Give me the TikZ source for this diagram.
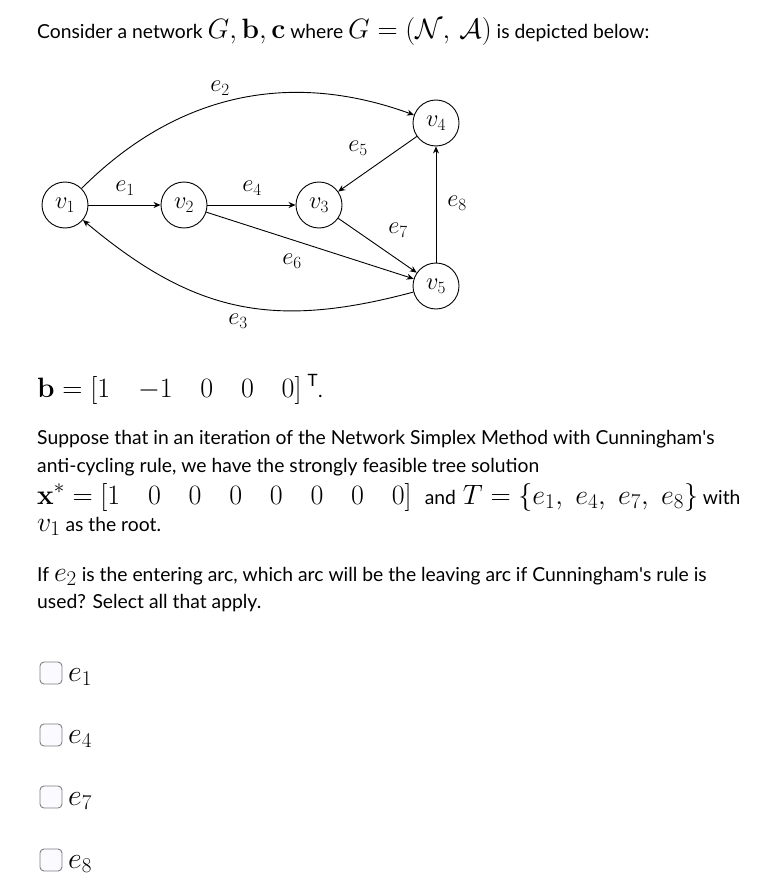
\RequirePackage{fix-cm}
\documentclass[tikz,border=0pt]{standalone}
\usepackage{amsmath}
\usepackage[no-math]{fontspec}
\setmainfont{Lato}
\usetikzlibrary{arrows.meta}
\DeclareMathSizes{28}{28}{21}{15}
\newcommand\txt{\fontsize{19.3}{28}\selectfont}
\newcommand\mth{\fontsize{28}{28}\selectfont}
\newcommand\gmth{\fontsize{24.5}{28}\selectfont}
\newcommand\opt{\fontsize{30}{34}\selectfont}
\newcommand\gp{\hspace{27.8pt}}
\newcommand\cm{,\mkern5mu}
\newcommand\apos{\textquotesingle}
\tikzset{
  vert/.style={circle,draw,line width=0.9pt,minimum size=46pt,inner sep=0pt,font=\gmth},
  arc/.style={line width=0.9pt,-{Stealth[length=7pt,width=6pt]}},
  lab/.style={inner sep=0pt,font=\gmth},
  line/.style={anchor=base west,inner sep=0pt,font=\txt},
  cbox/.style={draw=black!50,fill=blue!2,rounded corners=4pt,minimum size=22pt,inner sep=0pt,line width=0.9pt}
}
\begin{document}
\begin{tikzpicture}[x=1pt,y=1pt]
\useasboundingbox (0,0) rectangle (776,-888);
\node[line] (l1) at (37,-39) {Consider a network {\mth $G,\mathbf{b},\mathbf{c}$} where {\mth $G=(\mathcal{N},\mkern3mu\mathcal{A})$} is depicted below:};
% graph
\node[vert] (v1) at (65,-205) {$v_1$};
\node[vert] (v2) at (184,-205) {$v_2$};
\node[vert] (v3) at (319,-205) {$v_3$};
\node[vert] (v4) at (436,-123) {$v_4$};
\node[vert] (v5) at (436,-286) {$v_5$};
\draw[arc] (v1) -- (v2);
\draw[arc] (v2) -- (v3);
\draw[arc] (v4) -- (v3);
\draw[arc] (v3) -- (v5);
\draw[arc] (v2) -- (v5);
\draw[arc] (v5) -- (v4);
\draw[arc] (v1) to[out=45,in=160] (v4);
\draw[arc] (v5) to[out=195,in=-40,looseness=1.1] (v1);
\node[lab] (le1) at (125,-188) {$e_1$};
\node[lab] (le2) at (220,-88) {$e_2$};
\node[lab] (le3) at (238,-321) {$e_3$};
\node[lab] (le4) at (252,-188) {$e_4$};
\node[lab] (le5) at (358,-148) {$e_5$};
\node[lab] (le6) at (292,-261) {$e_6$};
\node[lab] (le7) at (398,-230) {$e_7$};
\node[lab] (le8) at (457,-203) {$e_8$};
% text
\node[line] (l2) at (37,-397) {{\mth $\mathbf{b}=[1\gp{-1}\gp0\gp0\gp0]^{\hspace{6pt}\mbox{\fontsize{17}{17}\selectfont T}}$}.};
\node[line] (l3) at (37,-444) {Suppose that in an iteration of the Network Simplex Method with Cunningham\apos s};
\node[line] (l4) at (37,-472) {anti-cycling rule, we have the strongly feasible tree solution};
\node[line] (l5) at (37,-504) {{\mth $\mathbf{x}^*=[1\gp0\gp0\gp0\gp0\gp0\gp0\gp0]$}\hspace{8pt} and\hspace{2pt} {\mth $T=\{e_1\cm e_4\cm e_7\cm e_8\}$} with};
\node[line] (l6) at (37,-531) {{\mth $v_1$} as the root.};
\node[line] (l7) at (37,-581) {If {\mth $e_2$} is the entering arc, which arc will be the leaving arc if Cunningham\apos s rule is};
\node[line] (l8) at (37,-608) {used? Select all that apply.};
% options
\node[cbox] (c1) at (51,-673) {};
\node[cbox] (c2) at (51,-735) {};
\node[cbox] (c3) at (51,-797) {};
\node[cbox] (c4) at (51,-860) {};
\node[anchor=west,inner sep=0pt,font=\opt] (o1) at (68,-677) {$e_1$};
\node[anchor=west,inner sep=0pt,font=\opt] (o2) at (68,-739) {$e_4$};
\node[anchor=west,inner sep=0pt,font=\opt] (o3) at (68,-801) {$e_7$};
\node[anchor=west,inner sep=0pt,font=\opt] (o4) at (68,-864) {$e_8$};
\end{tikzpicture}
\end{document}
